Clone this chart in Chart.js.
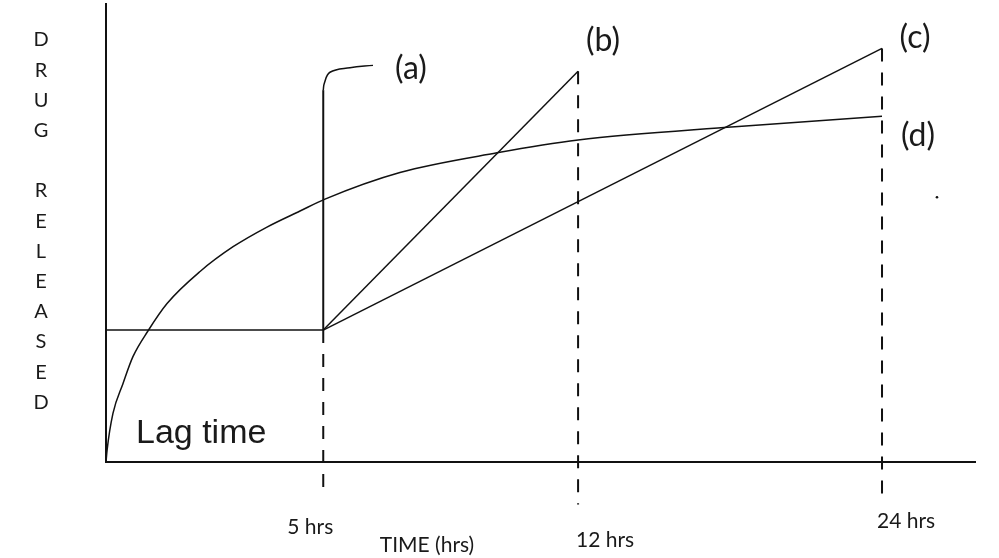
<!DOCTYPE html>
<html>
<head>
<meta charset="utf-8">
<script src="https://cdn.jsdelivr.net/npm/chart.js@4.4.0/dist/chart.umd.min.js"></script>
<style>
  html, body { margin: 0; padding: 0; background: #fff; overflow: hidden; }
  #wrap { width: 999px; height: 558px; }
</style>
</head>
<body>
<div id="wrap"><canvas id="chart"></canvas></div>
<script>
// schematic diagram: x runs in drawing units (0..40), not to scale in hours
const tickPos = [10, 21.73, 35.72];
const tickLabels = ['5 hrs', '12 hrs', '24 hrs'];
const lagLevel = 28.8;
const aTop = 81.2;
const bTop = 85.3;
const cTop = 90.3;
const hookX = [10, 10.05, 10.31, 11.23, 12.29];
const hookY = [81.2, 82.7, 85.1, 86.1, 86.6];
const curveX = [0, 0.05, 0.32, 0.78, 1.24, 1.93, 2.81, 4.33, 5.85, 7.41, 8.93, 10.08, 13.53, 18.0, 21.73, 28.95, 35.72];
const curveY = [0, 2.6, 10.6, 17.1, 23.0, 28.6, 34.6, 41.6, 47.0, 51.3, 54.8, 57.4, 63.2, 67.5, 70.3, 73.2, 75.5];
const dashBottom = [-7.6, -9.3, -8.9];
const strayDot = [38.25, 57.8];
const yLetters = ['D', 'R', 'U', 'G', '', 'R', 'E', 'L', 'E', 'A', 'S', 'E', 'D'];

const ink = '#111';

function pts(xs, ys) {
    return xs.map((x, i) => ({ x: x, y: ys[i] }));
}

function solid(data, extra) {
    return Object.assign({
        data: data,
        showLine: true,
        borderColor: ink,
        borderWidth: 1.5,
        pointRadius: 0,
        tension: 0,
        clip: false
    }, extra || {});
}

const datasets = [
    solid([{ x: 0, y: lagLevel }, { x: tickPos[0], y: lagLevel }]),          // lag
    solid([{ x: tickPos[0], y: lagLevel }, { x: tickPos[0], y: aTop }], { borderWidth: 2 }), // (a)
    solid(pts(hookX, hookY), { tension: 0.4 }),
    solid([{ x: tickPos[0], y: lagLevel }, { x: tickPos[1], y: bTop }]),     // (b)
    solid([{ x: tickPos[0], y: lagLevel }, { x: tickPos[2], y: cTop }]),     // (c)
    solid(pts(curveX, curveY), { cubicInterpolationMode: 'monotone' }),      // (d)
    // dashed drop lines
    solid([{ x: tickPos[0], y: lagLevel }, { x: tickPos[0], y: dashBottom[0] }], { borderDash: [13, 11], borderWidth: 2 }),
    solid([{ x: tickPos[1], y: bTop }, { x: tickPos[1], y: dashBottom[1] }], { borderDash: [13, 11], borderWidth: 2 }),
    solid([{ x: tickPos[2], y: cTop }, { x: tickPos[2], y: dashBottom[2] }], { borderDash: [13, 11], borderWidth: 2 }),
    { data: [{ x: strayDot[0], y: strayDot[1] }], pointRadius: 1.3, backgroundColor: ink, borderWidth: 0, clip: false }
];

const textPlugin = {
    id: 'texts',
    afterDraw(chart) {
        const { ctx, chartArea, scales: { x, y } } = chart;
        ctx.save();
        ctx.fillStyle = '#1a1a1a';
        ctx.textBaseline = 'middle';
        ctx.textAlign = 'center';

        // curve labels
        ctx.font = '32px Lato';
        ctx.textAlign = 'left';
        ctx.fillText('(a)', x.getPixelForValue(hookX[hookX.length - 1]) + 22, y.getPixelForValue(hookY[hookY.length - 1]) + 3);
        ctx.textAlign = 'center';
        ctx.fillText('(b)', x.getPixelForValue(tickPos[1]) + 25, y.getPixelForValue(bTop) - 31);
        ctx.fillText('(c)', x.getPixelForValue(tickPos[2]) + 33, y.getPixelForValue(cTop) - 11);
        ctx.fillText('(d)', x.getPixelForValue(tickPos[2]) + 36, y.getPixelForValue(curveY[curveY.length - 1]) + 19);

        // tick labels
        ctx.font = '21px Lato';
        const dx = [-13, 27, 24];
        const dy = [65, 78, 59];
        tickLabels.forEach((t, i) => {
            ctx.fillText(t, x.getPixelForValue(tickPos[i]) + dx[i], chartArea.bottom + dy[i]);
        });
        ctx.fillText('TIME (hrs)', chartArea.left + 321, chartArea.bottom + 83);

        // lag time
        ctx.font = '34px "Liberation Sans"';
        ctx.textAlign = 'left';
        ctx.textBaseline = 'alphabetic';
        ctx.fillText('Lag time', chartArea.left + 30, chartArea.bottom - 19);

        // vertical y label
        ctx.font = '20px Lato';
        ctx.textAlign = 'center';
        ctx.textBaseline = 'middle';
        yLetters.forEach((ch, i) => {
            ctx.fillText(ch, 41, 40 + i * 30.2);
        });
        ctx.restore();
    }
};

new Chart(document.getElementById('chart'), {
    type: 'scatter',
    data: { datasets: datasets },
    options: {
        responsive: true,
        maintainAspectRatio: false,
        animation: false,
        layout: { padding: { left: 106, right: 24, top: 0, bottom: 96 } },
        plugins: { legend: { display: false }, tooltip: { enabled: false } },
        scales: {
            x: {
                type: 'linear', min: 0, max: 40,
                grid: { display: false, drawTicks: false },
                ticks: { display: false },
                border: { display: true, color: ink, width: 2 }
            },
            y: {
                type: 'linear', min: 0, max: 100,
                grid: { display: false, drawTicks: false },
                ticks: { display: false },
                border: { display: true, color: ink, width: 2 }
            }
        }
    },
    plugins: [textPlugin]
});
</script>
</body>
</html>
